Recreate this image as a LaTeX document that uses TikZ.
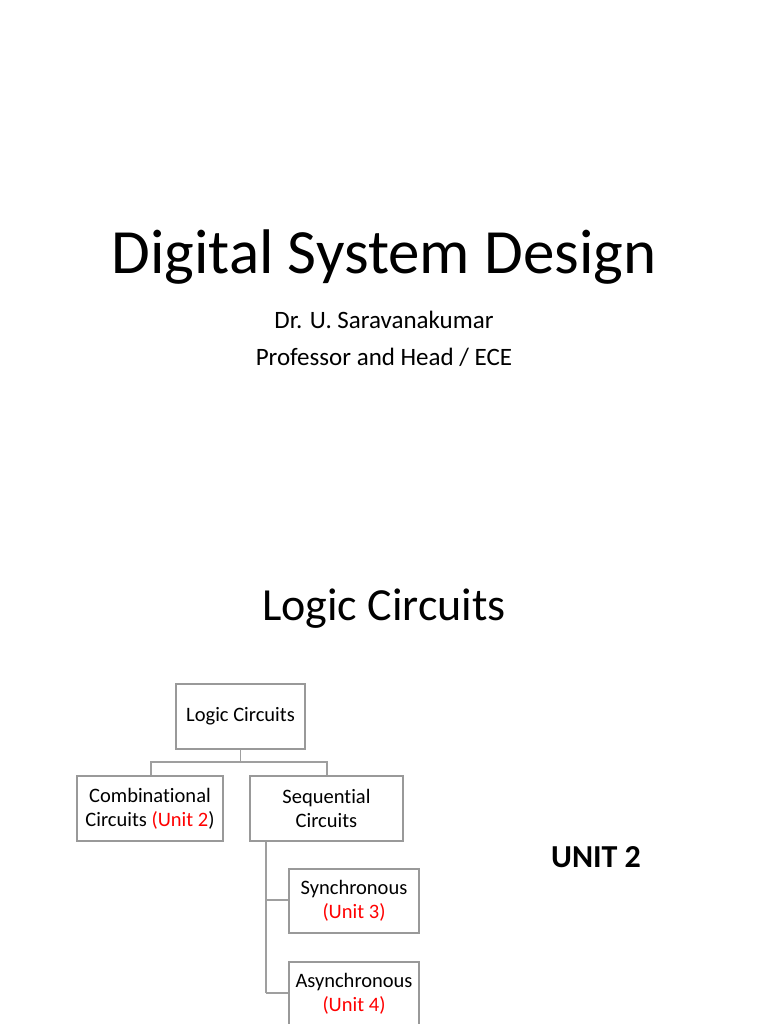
\documentclass[tikz,border=0pt]{standalone}
\usepackage{fontspec}
\setmainfont[Ligatures=NoCommon]{Carlito}
\begin{document}
\begin{tikzpicture}[x=1pt,y=-1pt,
  bx/.style={draw=gray!80,line width=1.5pt,fill=white,font=\fontsize{20.5}{24}\selectfont,align=center,inner sep=0pt},
  ln/.style={draw=gray!75,line width=1.2pt}]
\useasboundingbox (0,0) rectangle (768,1024);
\clip (0,0) rectangle (768,1024);
\node (title) at (384,257) {\fontsize{63}{72}\selectfont Digital System Design};
\node (auth) at (384,320) {\fontsize{25}{30}\selectfont Dr. U. Saravanakumar};
\node (role) at (384,357) {\fontsize{25}{30}\selectfont Professor and Head / ECE};
\node (sub) at (384,609) {\fontsize{46}{54}\selectfont Logic Circuits};
\node (unit) at (596,857) {\fontsize{32}{38}\selectfont\bfseries UNIT 2};
\coordinate (h1) at (240.5,762);
\coordinate (hl) at (151,762);
\coordinate (hr) at (327,762);
\coordinate (v0) at (266,841);
\coordinate (v1) at (266,900);
\coordinate (v2) at (266,993);
\draw[ln] (240.5,749) -- (h1);
\draw[ln] (151,776) -- (hl) -- (hr) -- (327,776);
\draw[ln] (v0) -- (v2);
\draw[ln] (v1) -- (289,900);
\draw[ln] (v2) -- (289,993);
\node[bx,minimum width=129pt,minimum height=65pt] (lc) at (240.5,716.5) {Logic Circuits};
\node[bx,minimum width=146pt,minimum height=65pt] (comb) at (150,808.5) {Combinational\\Circuits {\color{red}(Unit 2})};
\node[bx,minimum width=153pt,minimum height=65pt] (seq) at (326.5,808.5) {Sequential\\Circuits};
\node[bx,minimum width=130pt,minimum height=64pt] (sync) at (354,901) {Synchronous\\{\color{red}(Unit 3)}};
\node[bx,minimum width=130pt,minimum height=64pt,anchor=north] (async) at (354,961) {Asynchronous\\{\color{red}(Unit 4)}};
\end{tikzpicture}
\end{document}
